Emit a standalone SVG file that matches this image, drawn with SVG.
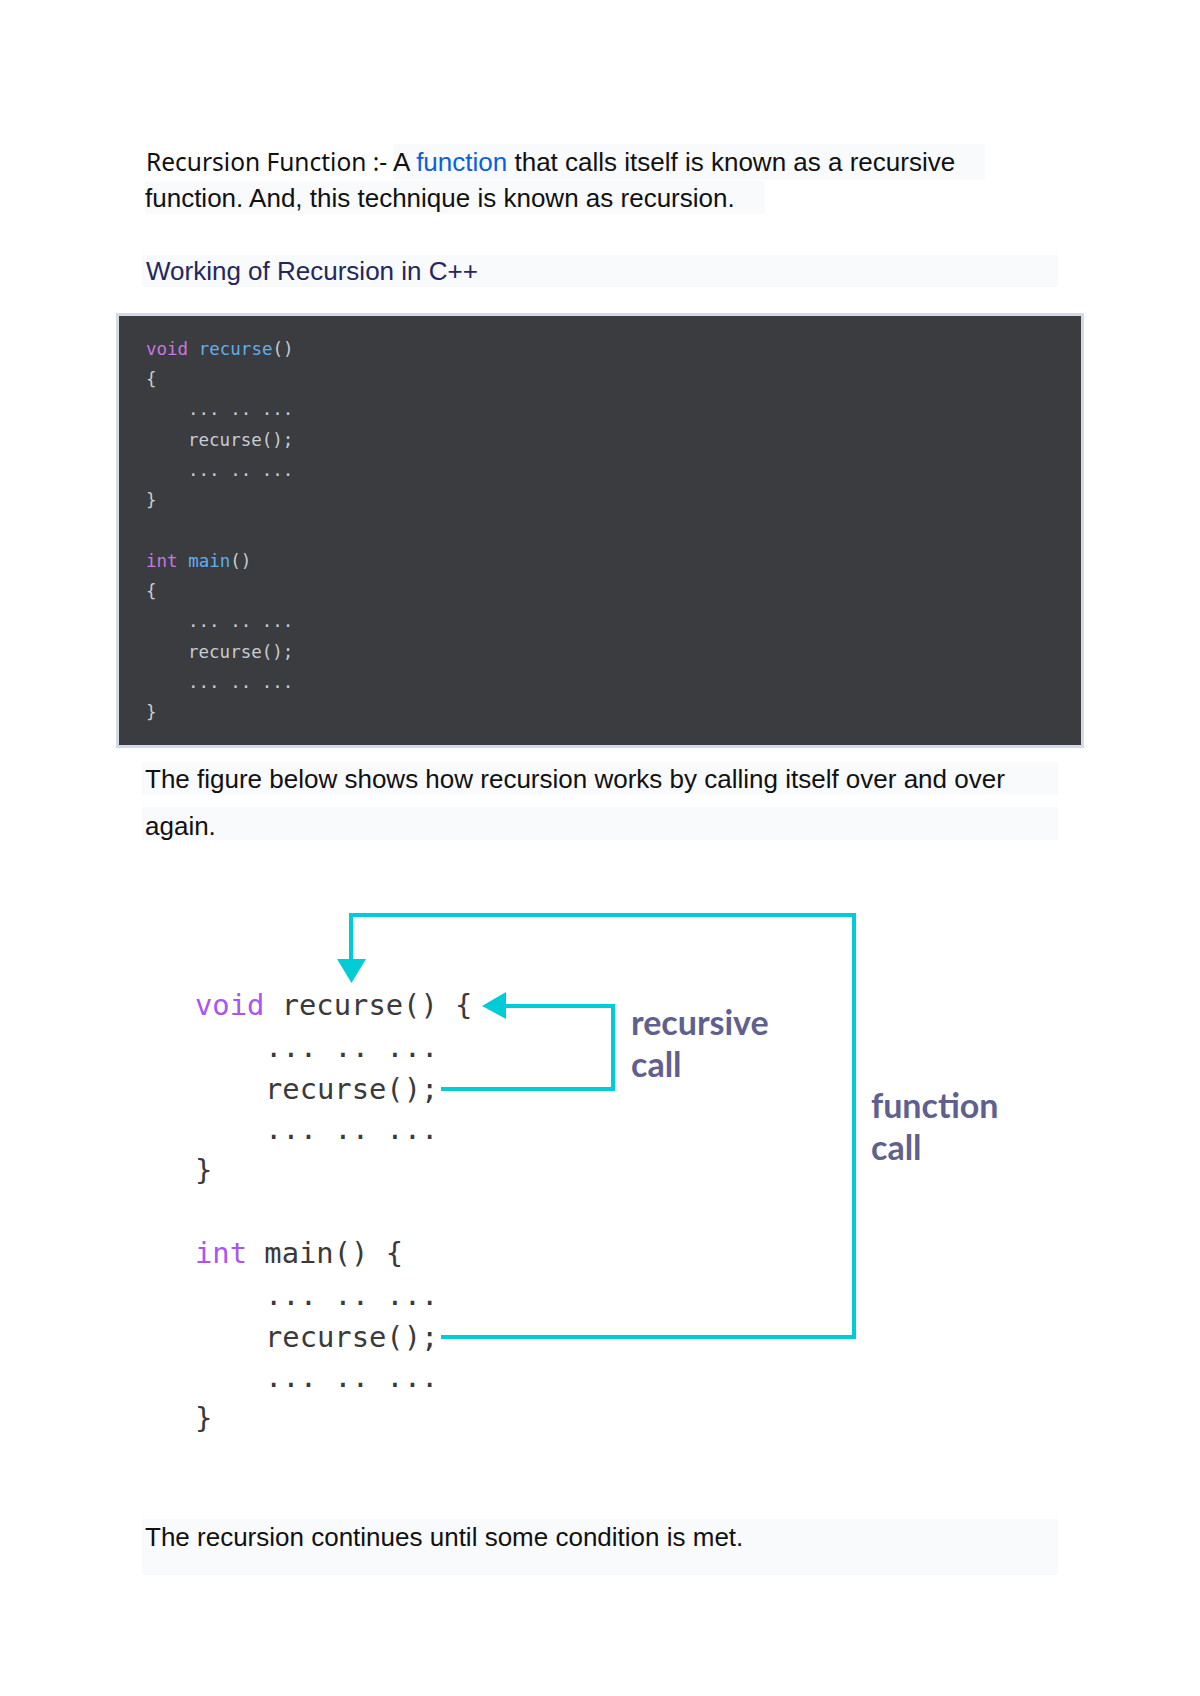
<svg xmlns="http://www.w3.org/2000/svg" width="1200" height="1696" viewBox="0 0 1200 1696">
<style>
.h{fill:#f9fafc}
.t{font-family:"Liberation Sans",Arial,sans-serif;font-size:26px;fill:#111}
.c{font-family:"DejaVu Sans Mono",monospace;font-size:17.5px;fill:#c9ccd0}
.f{font-family:"DejaVu Sans Mono",monospace;font-size:28.8px;fill:#3a3a3a}
.kw{fill:#c678dd}.fn{fill:#61aeee}.pu{fill:#a855f7}
.l{font-family:Lato,"Liberation Sans",sans-serif;font-weight:700;font-size:34px;fill:#5f6090}
.w{fill:none;stroke:#00ccd8;stroke-width:4}
.a{fill:#00ccd8}
</style>
<rect width="1200" height="1696" fill="#fff"/>
<g id="intro">
<rect class="h" x="393" y="144" width="592" height="36"/>
<rect class="h" x="145" y="181" width="620" height="33"/>
<text x="146" y="171" font-family="Noto Sans,sans-serif" font-size="24.5" fill="#111">Recursion Function :-</text>
<text class="t" x="393" y="171">A <tspan fill="#0b5fe0">function</tspan> that calls itself is known as a recursive</text>
<text class="t" x="145" y="207">function. And, this technique is known as recursion.</text>
</g>
<g id="heading">
<rect class="h" x="142" y="255" width="916" height="32"/>
<text class="t" x="146" y="280" style="fill:#25265e">Working of Recursion in C++</text>
</g>
<g id="code-block">
<rect x="117.500" y="314.500" width="965" height="432" fill="#3a3c40" stroke="#d3dbe6" stroke-width="3"/>
<text class="c" x="146" y="355"><tspan class="kw">void</tspan> <tspan class="fn">recurse</tspan>()</text>
<text class="c" x="146" y="385">{</text>
<text class="c" x="188" y="415">... .. ...</text>
<text class="c" x="188" y="446">recurse();</text>
<text class="c" x="188" y="476">... .. ...</text>
<text class="c" x="146" y="506">}</text>
<text class="c" x="146" y="567"><tspan class="kw">int</tspan> <tspan class="fn">main</tspan>()</text>
<text class="c" x="146" y="597">{</text>
<text class="c" x="188" y="627">... .. ...</text>
<text class="c" x="188" y="658">recurse();</text>
<text class="c" x="188" y="688">... .. ...</text>
<text class="c" x="146" y="718">}</text>
</g>
<g id="figure-caption">
<rect class="h" x="142" y="762" width="916" height="33"/>
<rect class="h" x="142" y="807" width="916" height="33"/>
<text class="t" x="145" y="788">The figure below shows how recursion works by calling itself over and over</text>
<text class="t" x="145" y="835">again.</text>
</g>
<g id="figure-code">
<text class="f" x="195" y="1015"><tspan class="pu">void</tspan> recurse() {</text>
<text class="f" x="265" y="1057">... .. ...</text>
<text class="f" x="265" y="1099">recurse();</text>
<text class="f" x="265" y="1139">... .. ...</text>
<text class="f" x="195" y="1180">}</text>
<text class="f" x="195" y="1263"><tspan class="pu">int</tspan> main() {</text>
<text class="f" x="265" y="1305">... .. ...</text>
<text class="f" x="265" y="1347">recurse();</text>
<text class="f" x="265" y="1387">... .. ...</text>
<text class="f" x="195" y="1428">}</text>
</g>
<g id="connectors">
<path class="w" d="M441 1337H854V915H351V960"/>
<polygon class="a" points="337,959 366,959 351.500,983"/>
<path class="w" d="M441 1089H613V1006H505"/>
<polygon class="a" points="482,1006 506,992 506,1019"/>
</g>
<g id="label-recursive">
<text class="l" x="631" y="1035">recursive</text>
<text class="l" x="631" y="1077">call</text>
</g>
<g id="label-function">
<text class="l" x="871" y="1118">function</text>
<text class="l" x="871" y="1160">call</text>
</g>
<g id="closing">
<rect class="h" x="142" y="1519" width="916" height="56"/>
<text class="t" x="145" y="1546">The recursion continues until some condition is met.</text>
</g>
</svg>
